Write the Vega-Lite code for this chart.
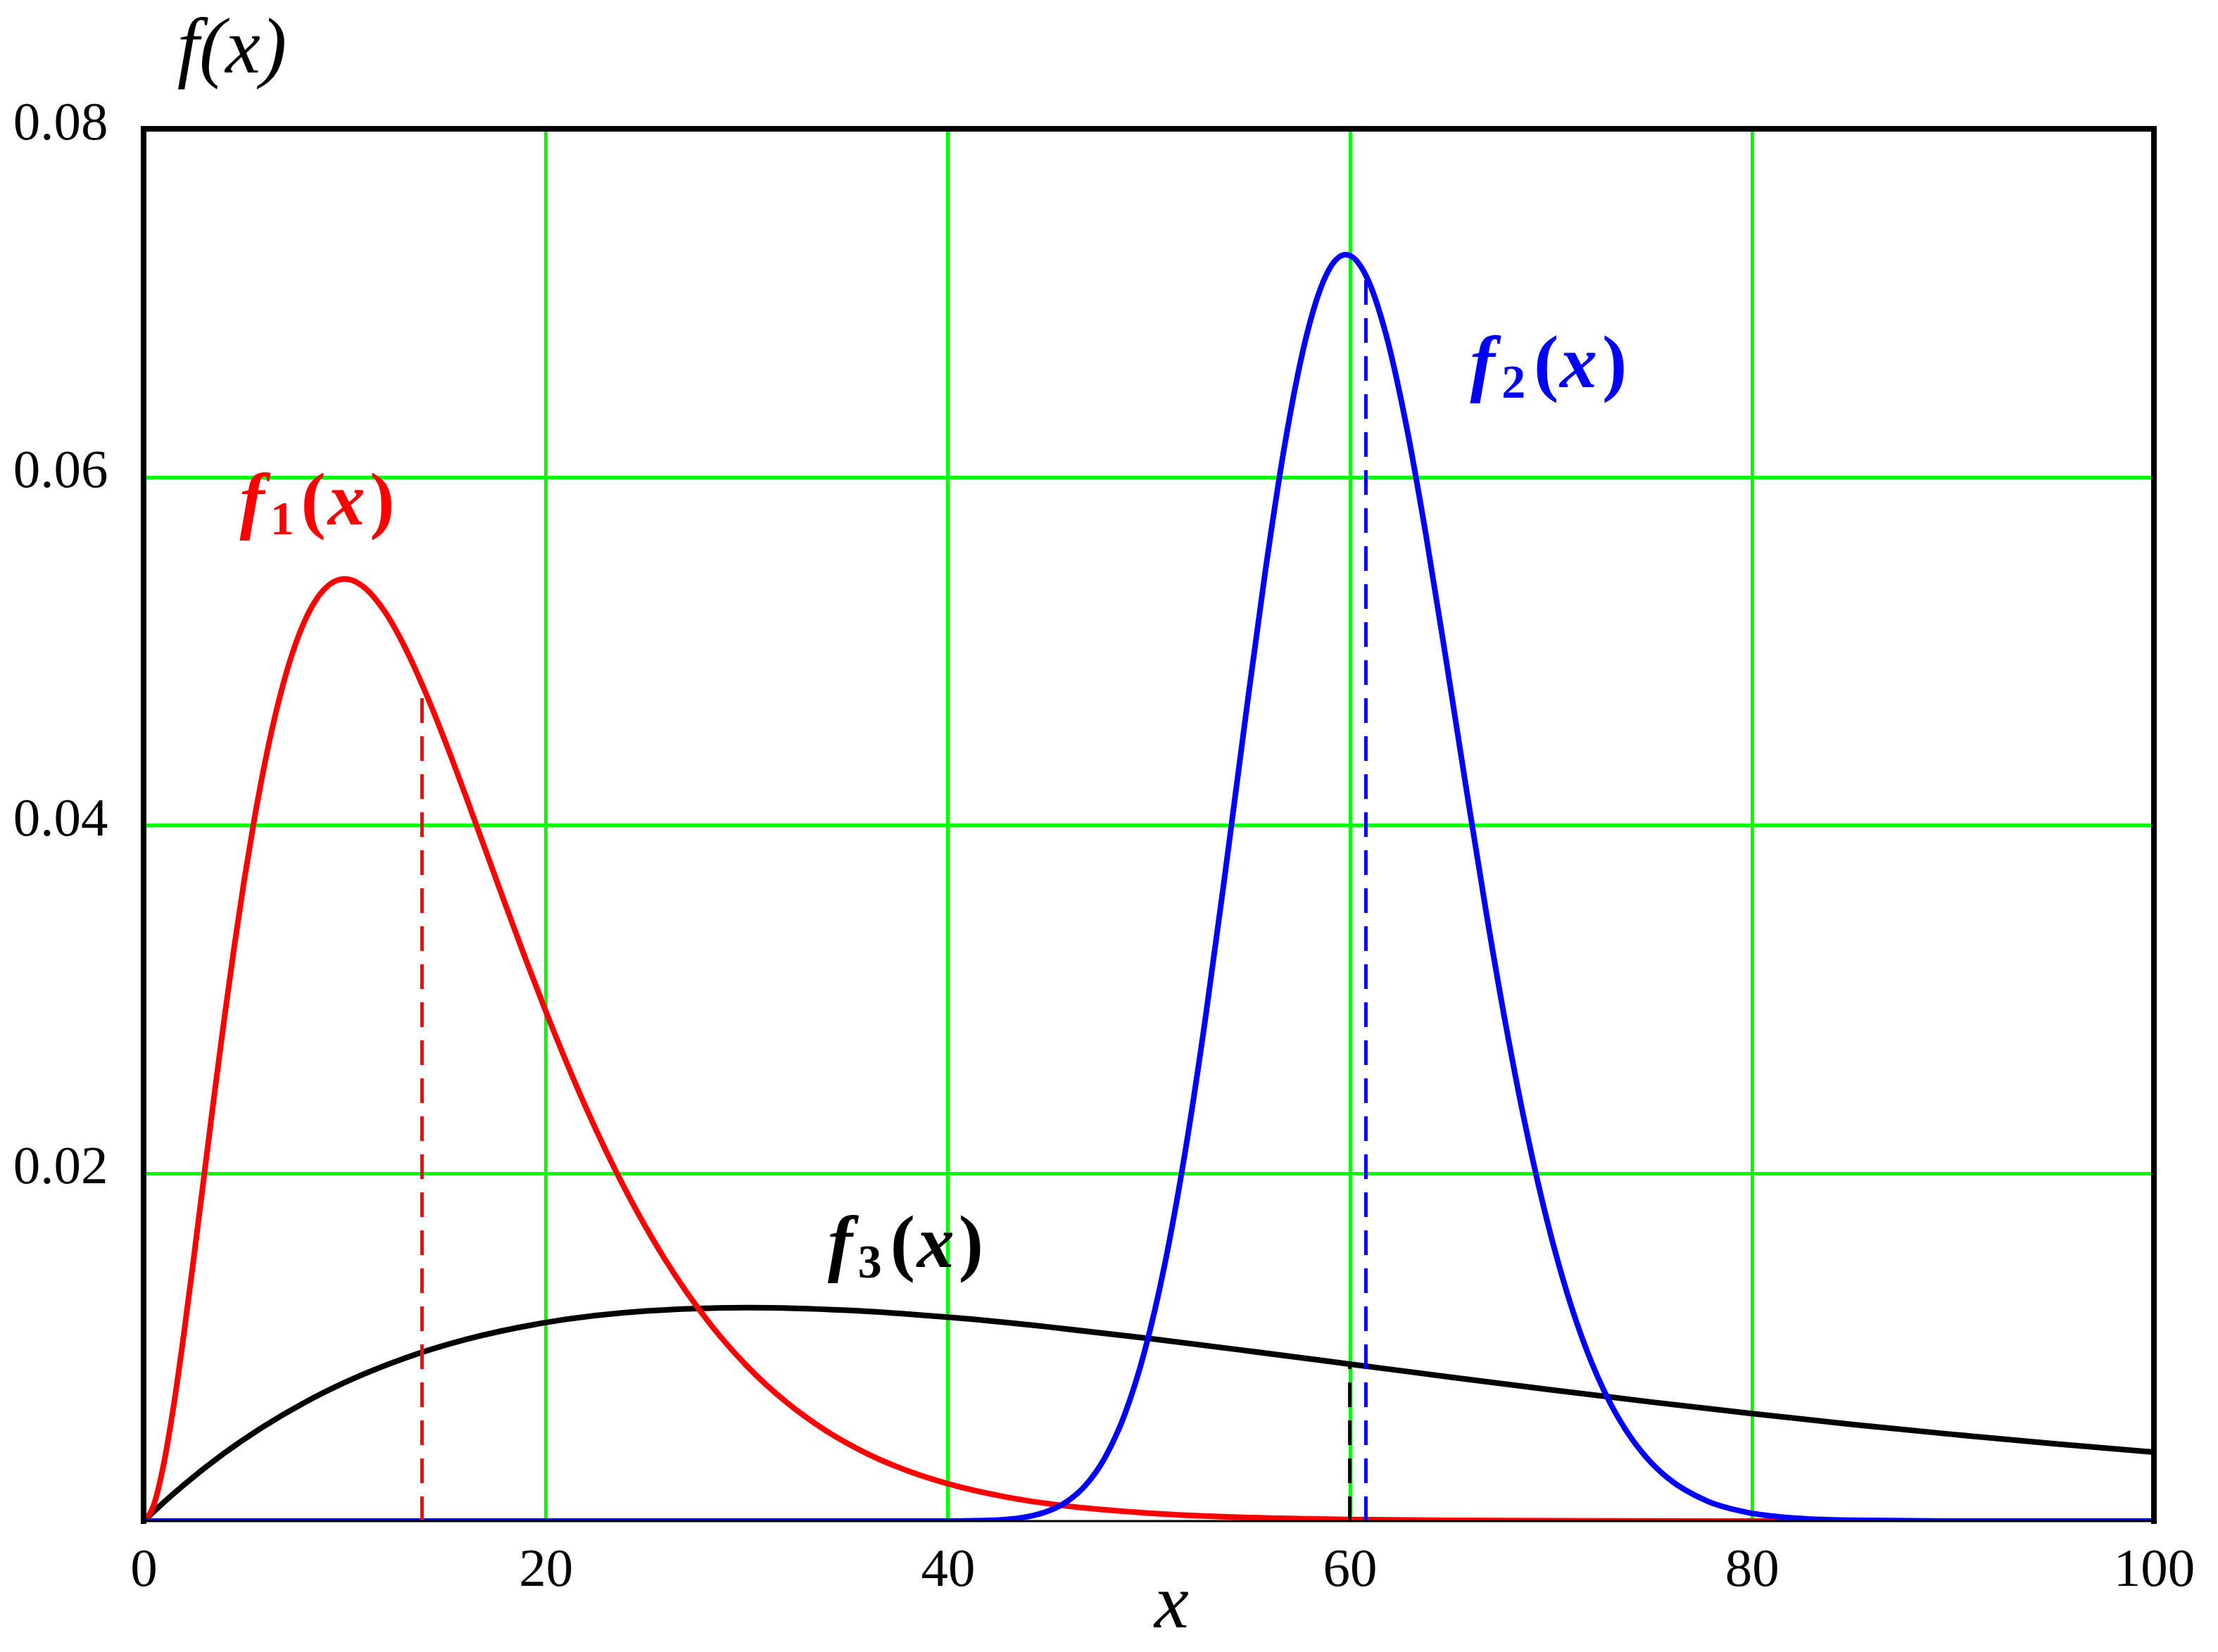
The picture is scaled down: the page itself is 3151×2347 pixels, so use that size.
{
  "$schema": "https://vega.github.io/schema/vega-lite/v6.json",
  "autosize": {"type": "none"},
  "padding": {"left": 204, "top": 183, "right": 91, "bottom": 186},
  "width": 2856,
  "height": 1978,
  "background": "white",
  "view": {"stroke": null},
  "datasets": {
    "curves": [
      {"x": 0, "y": 0, "series": "f3"},
      {"x": 1, "y": 0.001075, "series": "f3"},
      {"x": 2, "y": 0.002079, "series": "f3"},
      {"x": 4, "y": 0.00389, "series": "f3"},
      {"x": 6, "y": 0.005458, "series": "f3"},
      {"x": 8, "y": 0.006808, "series": "f3"},
      {"x": 10, "y": 0.007961, "series": "f3"},
      {"x": 13, "y": 0.009365, "series": "f3"},
      {"x": 16, "y": 0.010429, "series": "f3"},
      {"x": 20, "y": 0.011409, "series": "f3"},
      {"x": 25, "y": 0.012072, "series": "f3"},
      {"x": 30, "y": 0.012263, "series": "f3"},
      {"x": 35, "y": 0.01211, "series": "f3"},
      {"x": 40, "y": 0.011715, "series": "f3"},
      {"x": 45, "y": 0.011157, "series": "f3"},
      {"x": 50, "y": 0.010493, "series": "f3"},
      {"x": 55, "y": 0.00977, "series": "f3"},
      {"x": 60, "y": 0.009022, "series": "f3"},
      {"x": 65, "y": 0.008274, "series": "f3"},
      {"x": 70, "y": 0.007542, "series": "f3"},
      {"x": 75, "y": 0.00684, "series": "f3"},
      {"x": 80, "y": 0.006176, "series": "f3"},
      {"x": 85, "y": 0.005555, "series": "f3"},
      {"x": 90, "y": 0.004979, "series": "f3"},
      {"x": 95, "y": 0.004449, "series": "f3"},
      {"x": 100, "y": 0.003964, "series": "f3"},

      {"x": 0, "y": 0, "series": "f1"},
      {"x": 0.5, "y": 0.000905, "series": "f1"},
      {"x": 1, "y": 0.003275, "series": "f1"},
      {"x": 1.5, "y": 0.006667, "series": "f1"},
      {"x": 2, "y": 0.010725, "series": "f1"},
      {"x": 2.5, "y": 0.015163, "series": "f1"},
      {"x": 3, "y": 0.019757, "series": "f1"},
      {"x": 3.5, "y": 0.024333, "series": "f1"},
      {"x": 4, "y": 0.028757, "series": "f1"},
      {"x": 4.5, "y": 0.032932, "series": "f1"},
      {"x": 5, "y": 0.036788, "series": "f1"},
      {"x": 5.5, "y": 0.040277, "series": "f1"},
      {"x": 6, "y": 0.043372, "series": "f1"},
      {"x": 6.5, "y": 0.046058, "series": "f1"},
      {"x": 7, "y": 0.048333, "series": "f1"},
      {"x": 7.5, "y": 0.050204, "series": "f1"},
      {"x": 8, "y": 0.051686, "series": "f1"},
      {"x": 8.5, "y": 0.052796, "series": "f1"},
      {"x": 9, "y": 0.053557, "series": "f1"},
      {"x": 9.5, "y": 0.053994, "series": "f1"},
      {"x": 10, "y": 0.054134, "series": "f1"},
      {"x": 11, "y": 0.053629, "series": "f1"},
      {"x": 12, "y": 0.052254, "series": "f1"},
      {"x": 13, "y": 0.050209, "series": "f1"},
      {"x": 14, "y": 0.047675, "series": "f1"},
      {"x": 15, "y": 0.044808, "series": "f1"},
      {"x": 16, "y": 0.04174, "series": "f1"},
      {"x": 17, "y": 0.038579, "series": "f1"},
      {"x": 18, "y": 0.035412, "series": "f1"},
      {"x": 19, "y": 0.032303, "series": "f1"},
      {"x": 20, "y": 0.029305, "series": "f1"},
      {"x": 22, "y": 0.023769, "series": "f1"},
      {"x": 24, "y": 0.018961, "series": "f1"},
      {"x": 26, "y": 0.014917, "series": "f1"},
      {"x": 28, "y": 0.011597, "series": "f1"},
      {"x": 30, "y": 0.008924, "series": "f1"},
      {"x": 32, "y": 0.006806, "series": "f1"},
      {"x": 34, "y": 0.00515, "series": "f1"},
      {"x": 36, "y": 0.00387, "series": "f1"},
      {"x": 38, "y": 0.002891, "series": "f1"},
      {"x": 40, "y": 0.002147, "series": "f1"},
      {"x": 43, "y": 0.001362, "series": "f1"},
      {"x": 46, "y": 0.000855, "series": "f1"},
      {"x": 50, "y": 0.000454, "series": "f1"},
      {"x": 55, "y": 0.000202, "series": "f1"},
      {"x": 60, "y": 0.0000885, "series": "f1"},
      {"x": 65, "y": 0.0000382, "series": "f1"},
      {"x": 70, "y": 0.0000163, "series": "f1"},
      {"x": 80, "y": 0.000003, "series": "f1"},
      {"x": 90, "y": 0.0000005, "series": "f1"},
      {"x": 100, "y": 0, "series": "f1"},

      {"x": 0, "y": 0, "series": "f2"},
      {"x": 35.8, "y": 0, "series": "f2"},
      {"x": 39.8, "y": 0.0000036, "series": "f2"},
      {"x": 41.8, "y": 0.0000336, "series": "f2"},
      {"x": 43.8, "y": 0.000219, "series": "f2"},
      {"x": 44.8, "y": 0.000492, "series": "f2"},
      {"x": 45.8, "y": 0.001025, "series": "f2"},
      {"x": 46.8, "y": 0.001988, "series": "f2"},
      {"x": 47.8, "y": 0.003602, "series": "f2"},
      {"x": 48.8, "y": 0.006118, "series": "f2"},
      {"x": 49.8, "y": 0.009785, "series": "f2"},
      {"x": 50.8, "y": 0.014777, "series": "f2"},
      {"x": 51.8, "y": 0.021144, "series": "f2"},
      {"x": 52.8, "y": 0.028747, "series": "f2"},
      {"x": 53.8, "y": 0.037238, "series": "f2"},
      {"x": 54.8, "y": 0.04608, "series": "f2"},
      {"x": 55.8, "y": 0.054601, "series": "f2"},
      {"x": 56.8, "y": 0.062087, "series": "f2"},
      {"x": 57.8, "y": 0.067895, "series": "f2"},
      {"x": 58.8, "y": 0.07154, "series": "f2"},
      {"x": 59.8, "y": 0.072768, "series": "f2"},
      {"x": 60.8, "y": 0.071574, "series": "f2"},
      {"x": 61.8, "y": 0.068188, "series": "f2"},
      {"x": 62.8, "y": 0.063017, "series": "f2"},
      {"x": 63.8, "y": 0.056577, "series": "f2"},
      {"x": 64.8, "y": 0.049411, "series": "f2"},
      {"x": 65.8, "y": 0.042034, "series": "f2"},
      {"x": 66.8, "y": 0.034874, "series": "f2"},
      {"x": 67.8, "y": 0.028247, "series": "f2"},
      {"x": 68.8, "y": 0.022363, "series": "f2"},
      {"x": 69.8, "y": 0.017323, "series": "f2"},
      {"x": 70.8, "y": 0.013141, "series": "f2"},
      {"x": 71.8, "y": 0.009774, "series": "f2"},
      {"x": 72.8, "y": 0.007132, "series": "f2"},
      {"x": 73.8, "y": 0.005109, "series": "f2"},
      {"x": 74.8, "y": 0.003598, "series": "f2"},
      {"x": 75.8, "y": 0.002491, "series": "f2"},
      {"x": 77.8, "y": 0.001139, "series": "f2"},
      {"x": 79.8, "y": 0.000491, "series": "f2"},
      {"x": 81.8, "y": 0.000201, "series": "f2"},
      {"x": 84.8, "y": 0.0000479, "series": "f2"},
      {"x": 89.8, "y": 0.0000036, "series": "f2"},
      {"x": 100, "y": 0, "series": "f2"}
    ],
    "dashes": [
      {"x": 13.85, "y": 0, "yend": 0.0478, "series": "f1"},
      {"x": 60.8, "y": 0, "yend": 0.0715, "series": "f2"},
      {"x": 60, "y": 0, "yend": 0.009, "series": "f3"}
    ],
    "labels": [
      {"x": 5.4, "y": 0.05727, "t": "f", "part": "italic", "series": "f1"},
      {"x": 6.9, "y": 0.0567, "t": "1", "part": "sub", "series": "f1"},
      {"x": 8.44, "y": 0.05727, "t": "(", "part": "upright", "series": "f1"},
      {"x": 10.09, "y": 0.05727, "t": "x", "part": "italic", "series": "f1"},
      {"x": 11.87, "y": 0.05727, "t": ")", "part": "upright", "series": "f1"},
      {"x": 66.6, "y": 0.06516, "t": "f", "part": "italic", "series": "f2"},
      {"x": 68.15, "y": 0.06455, "t": "2", "part": "sub", "series": "f2"},
      {"x": 69.77, "y": 0.06516, "t": "(", "part": "upright", "series": "f2"},
      {"x": 71.38, "y": 0.06516, "t": "x", "part": "italic", "series": "f2"},
      {"x": 73.17, "y": 0.06516, "t": ")", "part": "upright", "series": "f2"},
      {"x": 34.65, "y": 0.0146, "t": "f", "part": "italic", "series": "f3"},
      {"x": 36.13, "y": 0.01399, "t": "3", "part": "sub", "series": "f3"},
      {"x": 37.76, "y": 0.0146, "t": "(", "part": "upright", "series": "f3"},
      {"x": 39.4, "y": 0.0146, "t": "x", "part": "italic", "series": "f3"},
      {"x": 41.16, "y": 0.0146, "t": ")", "part": "upright", "series": "f3"}
    ]
  },
  "layer": [
    {
      "data": {"name": "curves"},
      "mark": {"type": "line", "strokeWidth": 8, "interpolate": "monotone", "clip": true},
      "encoding": {
        "x": {
          "field": "x", "type": "quantitative",
          "scale": {"domain": [0, 100], "nice": false, "zero": false},
          "axis": {
            "values": [0, 20, 40, 60, 80, 100],
            "domain": false, "ticks": false, "grid": true,
            "gridColor": "#00ff00", "gridWidth": 5, "gridOpacity": 1,
            "labelFont": "Liberation Serif", "labelFontSize": 77, "labelColor": "black",
            "labelPadding": 30, "labelBaseline": "top", "labelFlush": false, "labelOverlap": false,
            "title": "x", "titleFont": "Liberation Serif", "titleFontSize": 110,
            "titleFontStyle": "italic", "titleFontWeight": "normal", "titleColor": "black",
            "titleAlign": "center", "titleBaseline": "alphabetic", "titleX": 1460, "titleY": 150
          }
        },
        "y": {
          "field": "y", "type": "quantitative",
          "scale": {"domain": [0, 0.08], "nice": false, "zero": false},
          "axis": {
            "values": [0.02, 0.04, 0.06, 0.08],
            "domain": false, "ticks": false, "grid": true,
            "gridColor": "#00ff00", "gridWidth": 5, "gridOpacity": 1,
            "labelFont": "Liberation Serif", "labelFontSize": 77, "labelColor": "black",
            "labelPadding": 51, "labelAlign": "right", "labelBaseline": "middle", "labelOffset": -9,
            "labelFlush": false, "labelOverlap": false, "format": ".2f",
            "title": "f(x)", "titleFont": "Liberation Serif", "titleFontSize": 112,
            "titleFontStyle": "italic", "titleFontWeight": "normal", "titleColor": "black",
            "titleAngle": 0, "titleAlign": "center", "titleBaseline": "alphabetic",
            "titleX": 125, "titleY": -81
          }
        },
        "color": {
          "field": "series", "type": "nominal",
          "scale": {"domain": ["f1", "f2", "f3"], "range": ["#ff0000", "#0000ff", "#000000"]},
          "legend": null
        },
        "order": {"field": "x", "type": "quantitative"}
      }
    },
    {
      "data": {"name": "dashes"},
      "mark": {"type": "rule", "strokeWidth": 5, "strokeDash": [35, 19]},
      "encoding": {
        "x": {"field": "x", "type": "quantitative"},
        "y": {"field": "y", "type": "quantitative"},
        "y2": {"field": "yend"},
        "color": {"field": "series", "type": "nominal"}
      }
    },
    {
      "data": {"values": [{}]},
      "mark": {"type": "rule", "color": "black", "strokeWidth": 8, "strokeCap": "square"},
      "encoding": {"x": {"datum": 0, "type": "quantitative"}}
    },
    {
      "data": {"values": [{}]},
      "mark": {"type": "rule", "color": "black", "strokeWidth": 8, "strokeCap": "square"},
      "encoding": {"x": {"datum": 100, "type": "quantitative"}}
    },
    {
      "data": {"values": [{}]},
      "mark": {"type": "rule", "color": "black", "strokeWidth": 8, "strokeCap": "square"},
      "encoding": {"y": {"datum": 0.08, "type": "quantitative"}}
    },
    {
      "data": {"values": [{}]},
      "mark": {"type": "rule", "color": "black", "strokeWidth": 3, "strokeCap": "square"},
      "encoding": {"y": {"datum": 0, "type": "quantitative"}}
    },
    {
      "data": {"name": "labels"},
      "transform": [{"filter": "datum.part === 'italic'"}],
      "mark": {"type": "text", "font": "Liberation Serif", "fontStyle": "italic", "fontWeight": "bold", "fontSize": 106, "align": "center", "baseline": "alphabetic"},
      "encoding": {
        "x": {"field": "x", "type": "quantitative"},
        "y": {"field": "y", "type": "quantitative"},
        "text": {"field": "t"},
        "color": {"field": "series", "type": "nominal"}
      }
    },
    {
      "data": {"name": "labels"},
      "transform": [{"filter": "datum.part === 'upright'"}],
      "mark": {"type": "text", "font": "Liberation Serif", "fontWeight": "bold", "fontSize": 106, "align": "center", "baseline": "alphabetic"},
      "encoding": {
        "x": {"field": "x", "type": "quantitative"},
        "y": {"field": "y", "type": "quantitative"},
        "text": {"field": "t"},
        "color": {"field": "series", "type": "nominal"}
      }
    },
    {
      "data": {"name": "labels"},
      "transform": [{"filter": "datum.part === 'sub'"}],
      "mark": {"type": "text", "font": "Liberation Serif", "fontWeight": "bold", "fontSize": 68, "align": "center", "baseline": "alphabetic"},
      "encoding": {
        "x": {"field": "x", "type": "quantitative"},
        "y": {"field": "y", "type": "quantitative"},
        "text": {"field": "t"},
        "color": {"field": "series", "type": "nominal"}
      }
    }
  ]
}
